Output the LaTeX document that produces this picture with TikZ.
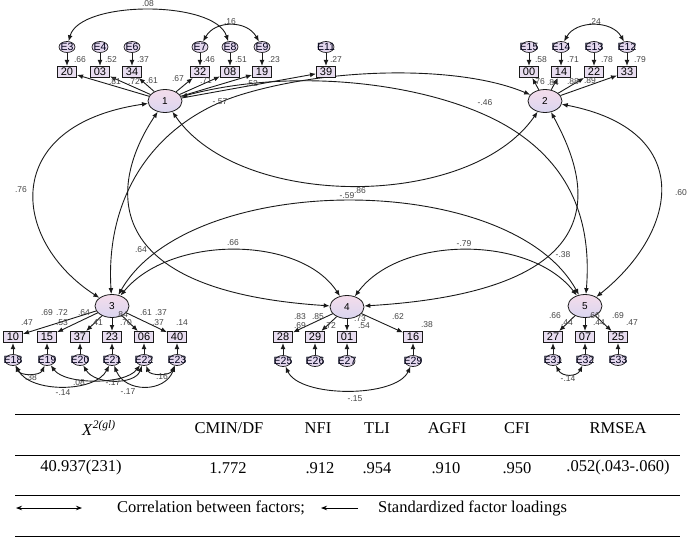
\documentclass[tikz,border=0pt]{standalone}
\usepackage{fontspec}
\setmainfont{Liberation Serif}
\newfontfamily\diagfont{Liberation Sans}
\usetikzlibrary{arrows.meta,shapes.geometric}
\definecolor{boxfill}{HTML}{E8DDF0}
\definecolor{facpink}{HTML}{F4DCEB}
\definecolor{faclav}{HTML}{DAD6F0}
\definecolor{errfill}{HTML}{E4D8EE}
\definecolor{lblgray}{HTML}{444444}
\definecolor{linecol}{HTML}{1A1A1A}
\begin{document}
\begin{tikzpicture}[x=1pt,y=-1pt,
  >={Latex[length=6pt,width=4.8pt]},
  factor/.style={ellipse, draw=linecol, line width=0.8pt, top color=facpink, bottom color=faclav, minimum width=34pt, minimum height=23pt, inner sep=0pt, font=\diagfont\fontsize{10}{10}\selectfont},
  ind/.style={rectangle, draw=linecol, line width=1pt, fill=boxfill, minimum width=19pt, minimum height=11pt, inner sep=0pt, font=\diagfont\fontsize{11}{10}\selectfont},
  err/.style={ellipse, draw=linecol, line width=0.7pt, fill=errfill, minimum width=16pt, minimum height=11pt, inner sep=0pt, font=\diagfont\fontsize{10.5}{10}\selectfont, text=black!90!blue},
  lbl/.style={font=\diagfont\fontsize{8.5}{9}\selectfont, text=lblgray, inner sep=0pt},
  conn/.style={->, line width=0.9pt, draw=linecol},
  cov/.style={<->, line width=0.9pt, draw=linecol},
  tabtxt/.style={font=\fontsize{16.5}{18}\selectfont, inner sep=0pt},
  tabrule/.style={line width=0.9pt, draw=black},
  legarrow/.style={line width=0.8pt, >={Stealth[length=6pt,width=4.5pt]}}
]
\useasboundingbox (0,0) rectangle (693,540);

% ---------- factors
\node[factor] (f1) at (165,101) {1};
\node[factor] (f2) at (545,101) {2};
\node[factor] (f3) at (112,306) {3};
\node[factor] (f4) at (347,307) {4};
\node[factor] (f5) at (585,306) {5};

% ---------- factor covariances
\draw[cov] (f1) .. controls (0,125) and (10,240) .. (f3);
\draw[cov] (f1) .. controls (115,175) and (85,290) .. (f4);
\draw[cov] (f1) .. controls (240,210) and (470,210) .. (f2);
\draw[cov] (f3) .. controls (105,190) and (160,120) .. (240,95) .. controls (330,67) and (460,65) .. (f2);
\draw[cov] (f1) .. controls (300,65) and (440,85) .. (510,128) .. controls (570,165) and (592,220) .. (f5);
\draw[cov] (f2) .. controls (695,130) and (680,230) .. (f5);
\draw[cov] (f2) .. controls (585,175) and (630,290) .. (f4);
\draw[cov] (f3) .. controls (190,170) and (510,170) .. (f5);
\draw[cov] (f3) .. controls (170,235) and (300,235) .. (f4);
\draw[cov] (f4) .. controls (400,235) and (530,235) .. (f5);

% ---------- factor 1 indicators
\foreach \nm/\e/\x in {20/3/67, 03/4/100, 34/6/132, 32/7/200, 08/8/230, 19/9/262, 39/11/326} {
  \node[ind] (i\nm) at (\x,72) {\nm};
  \node[err] (e\e) at (\x,47) {\makebox[0pt]{E\e}};
  \draw[conn] (e\e) -- (i\nm);
  \draw[conn] (f1) -- (i\nm);
}
% ---------- factor 2 indicators
\foreach \nm/\e/\x in {00/15/529, 14/14/561, 22/13/594, 33/12/627} {
  \node[ind] (i\nm) at (\x,72) {\nm};
  \node[err] (e\e) at (\x,47) {\makebox[0pt]{E\e}};
  \draw[conn] (e\e) -- (i\nm);
  \draw[conn] (f2) -- (i\nm);
}
% ---------- factor 3 indicators
\foreach \nm/\e/\x in {10/18/13, 15/19/47, 37/20/80, 23/21/112, 06/22/144, 40/23/177} {
  \node[ind] (i\nm) at (\x,337) {\nm};
  \node[err] (e\e) at (\x,360) {\makebox[0pt]{E\e}};
  \draw[conn] (e\e) -- (i\nm);
  \draw[conn] (f3) -- (i\nm);
}
% ---------- factor 4 indicators
\foreach \nm/\e/\x in {28/25/283, 29/26/315, 01/27/347, 16/29/413} {
  \node[ind] (i\nm) at (\x,337) {\nm};
  \node[err] (e\e) at (\x,361) {\makebox[0pt]{E\e}};
  \draw[conn] (e\e) -- (i\nm);
  \draw[conn] (f4) -- (i\nm);
}
% ---------- factor 5 indicators
\foreach \nm/\e/\x in {27/31/553, 07/32/585, 25/33/618} {
  \node[ind] (i\nm) at (\x,337) {\nm};
  \node[err] (e\e) at (\x,360) {\makebox[0pt]{E\e}};
  \draw[conn] (e\e) -- (i\nm);
  \draw[conn] (f5) -- (i\nm);
}

% ---------- error covariances
\draw[cov] (e3) .. controls (80,0) and (215,0) .. (e8);
\draw[cov] (e7) .. controls (215,20) and (247,20) .. (e9);
\draw[cov] (e14) .. controls (576,20) and (612,20) .. (e12);
\draw[cov] (e18) .. controls (20,376) and (40,376) .. (e19);
\draw[cov] (e18) .. controls (30,393) and (95,393) .. (e21);
\draw[cov] (e19) .. controls (65,385) and (125,385) .. (e22);
\draw[cov] (e20) .. controls (95,385) and (135,385) .. (e22);
\draw[cov] (e21) .. controls (125,393) and (165,393) .. (e23);
\draw[cov] (e22) .. controls (150,376) and (170,376) .. (e23);
\draw[cov] (e25) .. controls (300,398) and (396,398) .. (e29);
\draw[cov] (e31) .. controls (562,377) and (577,377) .. (e32);

% ---------- labels
\foreach \t/\x/\y [count=\i] in {.66/80/60, .52/111/60, .37/143/60, .46/209/60, .51/241/60, .23/274/60, .27/336/60, .81/115/82, .72/134/82, .61/152/81, .67/178/79, .71/206/81, .52/252/84, -.57/220/102, .58/541/60, .71/573/60, .78/607/60, .79/640/60, .76/539/82, .84/553/83, .88/573/82, .89/590/81, -.46/485/103, .08/148/4, .16/230/22, .24/595/22}
  \node[lbl] (ltop\i) at (\x,\y) {\t};
\foreach \t/\x/\y [count=\i] in {.76/21/190, .60/681/193, .64/141/250, .66/233/243, -.79/464/244, -.38/563/255, -.59/347/196, .86/360/191}
  \node[lbl] (lmid\i) at (\x,\y) {\t};
\foreach \t/\x/\y [count=\i] in {.69/47/313, .72/62/313, .64/84/313, .84/122/315, .61/146/313, .37/161/313, .47/27/323, .53/62/323, .41/97/323, .70/126/323, .37/158/323, .14/182/323, .83/300/317, .85/318/317, .69/300/326, .72/330/326, .73/360/319, .54/364/326, .62/398/317, .38/427/325, .66/555/316, .44/567/323, .66/594/316, .44/599/323, .69/618/316, .47/632/323, .38/31/378, -.14/63/393, .08/79/383, -.17/113/383, -.17/128/392, .16/162/377, -.15/355/399, -.14/568/379}
  \node[lbl] (lbot\i) at (\x,\y) {\t};

% ---------- table
\draw[tabrule] (15,414) -- (680,414);
\draw[tabrule] (15,455) -- (680,455);
\draw[tabrule] (15,495) -- (680,495);
\draw[tabrule] (15,536) -- (680,536);
\node[tabtxt, anchor=west] (hx) at (82,428) {\textit{X}\textsuperscript{\textit{2(gl)}}};
\node[tabtxt] (hcmin) at (229,428) {CMIN/DF};
\node[tabtxt] (hnfi) at (318,428) {NFI};
\node[tabtxt] (htli) at (377,428) {TLI};
\node[tabtxt] (hagfi) at (447,428) {AGFI};
\node[tabtxt] (hcfi) at (517,428) {CFI};
\node[tabtxt] (hrmsea) at (618,428) {RMSEA};
\node[tabtxt] (vx) at (81,468) {40.937(231)};
\node[tabtxt] (vcmin) at (228,468) {1.772};
\node[tabtxt] (vnfi) at (320,468) {.912};
\node[tabtxt] (vtli) at (377,468) {.954};
\node[tabtxt] (vagfi) at (446,468) {.910};
\node[tabtxt] (vcfi) at (517,468) {.950};
\node[tabtxt] (vrmsea) at (618,468) {.052(.043-.060)};
\coordinate (la1) at (16,508);
\coordinate (la2) at (82,508);
\draw[legarrow, <->] (la1) -- (la2);
\node[tabtxt, anchor=west] (lt1) at (117,508) {Correlation between factors;};
\coordinate (lb1) at (358,508);
\coordinate (lb2) at (321,508);
\draw[legarrow, ->] (lb1) -- (lb2);
\node[tabtxt, anchor=west] (lt2) at (378,508) {Standardized factor loadings};
\end{tikzpicture}
\end{document}
